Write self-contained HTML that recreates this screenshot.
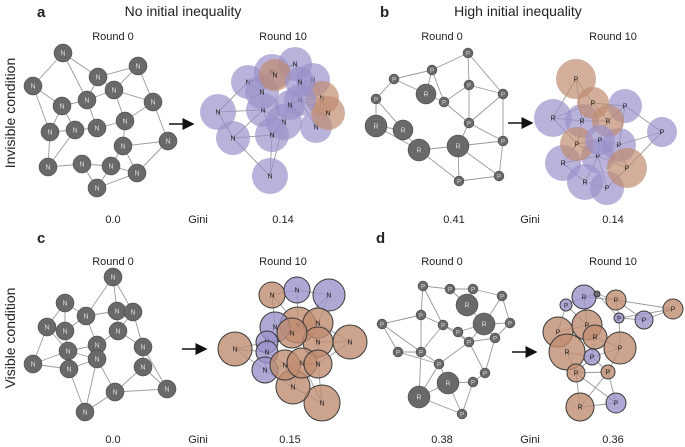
<!DOCTYPE html>
<html><head><meta charset="utf-8"><style>
html,body{margin:0;padding:0;background:#fff;}
svg{display:block;font-family:"Liberation Sans",sans-serif;}
</style></head><body>
<svg id="fig" width="685" height="447" viewBox="0 0 685 447">
<g fill="#222">
<text x="37" y="17" font-size="15" font-weight="bold">a</text>
<text x="380" y="17" font-size="15" font-weight="bold">b</text>
<text x="37" y="243" font-size="15" font-weight="bold">c</text>
<text x="376" y="243" font-size="15" font-weight="bold">d</text>
<text x="183" y="16" font-size="14" text-anchor="middle">No initial inequality</text>
<text x="518" y="16" font-size="14" text-anchor="middle">High initial inequality</text>
<text transform="translate(15,113) rotate(-90)" font-size="14" text-anchor="middle">Invisible condition</text>
<text transform="translate(15,338) rotate(-90)" font-size="14" text-anchor="middle">Visible condition</text>
<g font-size="11" text-anchor="middle">
<text x="113" y="40">Round 0</text>
<text x="283" y="40">Round 10</text>
<text x="442" y="40">Round 0</text>
<text x="613" y="40">Round 10</text>
<text x="113" y="265">Round 0</text>
<text x="283" y="265">Round 10</text>
<text x="442" y="265">Round 0</text>
<text x="613" y="265">Round 10</text>
<text x="113" y="223">0.0</text>
<text x="198" y="223">Gini</text>
<text x="283" y="223">0.14</text>
<text x="454" y="223">0.41</text>
<text x="530" y="223">Gini</text>
<text x="613" y="223">0.14</text>
<text x="113" y="443">0.0</text>
<text x="198" y="443">Gini</text>
<text x="290" y="443">0.15</text>
<text x="442" y="443">0.38</text>
<text x="530" y="443">Gini</text>
<text x="613" y="443">0.36</text>
</g>
</g>
<defs><marker id="ah" markerWidth="8" markerHeight="8" refX="7" refY="4" orient="auto"><path d="M0,0 L8,4 L0,8 z" fill="#111"/></marker></defs>
<g stroke="#111" stroke-width="1.5">
<line x1="169" y1="124" x2="193" y2="124" marker-end="url(#ah)"/>
<line x1="508" y1="123" x2="532" y2="123" marker-end="url(#ah)"/>
<line x1="182" y1="349" x2="206" y2="349" marker-end="url(#ah)"/>
<line x1="512" y1="352" x2="536" y2="352" marker-end="url(#ah)"/>
</g>
<g id="nets"></g>
</svg>
<script>
// node: x, y, radius, label, color (g=gray, u=purple, b=brown)
const netA0=[[63,53,9,'N','g'],[138,66,9,'N','g'],[33,86,9,'N','g'],[98,77,9,'N','g'],[114,90,9,'N','g'],[87,100,9,'N','g'],[62,106,9,'N','g'],[153,102,9,'N','g'],[50,132,9,'N','g'],[75,130,9,'N','g'],[97,128,9,'N','g'],[125,121,9,'N','g'],[123,146,9,'N','g'],[168,141,9,'N','g'],[48,167,9,'N','g'],[82,164,9,'N','g'],[111,166,9,'N','g'],[137,173,9,'N','g'],[97,188,9,'N','g']];
const netA10=[[218,112,18,'N','u'],[233,138,17,'N','u'],[270,176,18,'N','u'],[248,82,17,'N','u'],[272,72,18,'N','u'],[295,64,17,'N','u'],[313,80,17,'N','u'],[263,110,17,'N','u'],[262,92,17,'N','u'],[284,122,18,'N','u'],[316,127,16,'N','u'],[272,135,17,'N','u'],[275,75,16,'N','b'],[322,98,17,'N','b'],[328,113,17,'N','b'],[300,100,16,'N','u'],[290,105,15,'N','u'],[300,82,15,'N','u']];
const netB0=[[468,53,5,'P','g'],[432,70,5,'P','g'],[394,79,5,'P','g'],[469,85,5,'P','g'],[503,94,5,'P','g'],[444,102,5,'P','g'],[376,99,5,'P','g'],[469,123,5,'P','g'],[503,141,5,'P','g'],[499,176,5,'P','g'],[459,181,5,'P','g'],[426,94,10,'R','g'],[376,126,11,'R','g'],[403,130,10,'R','g'],[419,150,11,'R','g'],[458,146,11,'R','g']];
const netB10=[[576,79,20,'P','b'],[625,106,17,'P','u'],[553,118,19,'R','u'],[582,121,17,'R','u'],[662,132,15,'P','u'],[619,145,17,'P','u'],[598,156,17,'P','u'],[563,163,18,'R','u'],[585,182,18,'R','u'],[607,188,17,'P','u'],[593,103,16,'P','b'],[608,121,16,'R','b'],[577,144,17,'P','b'],[627,168,20,'P','b'],[600,140,15,'P','u']];
const netC0=[[113,277,9,'N','g'],[65,303,9,'N','g'],[86,316,9,'N','g'],[117,311,9,'N','g'],[133,312,9,'N','g'],[47,327,9,'N','g'],[65,331,9,'N','g'],[118,331,9,'N','g'],[97,345,9,'N','g'],[68,351,9,'N','g'],[97,359,9,'N','g'],[143,347,9,'N','g'],[33,364,9,'N','g'],[69,369,9,'N','g'],[143,367,9,'N','g'],[115,392,9,'N','g'],[167,389,9,'N','g'],[85,412,9,'N','g']];
const netC10=[[272,295,13,'N','b'],[297,290,13,'N','u'],[329,295,16,'N','u'],[235,349,17,'N','b'],[350,342,17,'N','b'],[322,403,18,'N','b'],[293,387,17,'N','b'],[298,325,18,'N','b'],[318,323,15,'N','b'],[318,342,15,'N','b'],[275,327,15,'N','u'],[267,342,11,'N','u'],[267,352,11,'N','u'],[265,370,13,'N','u'],[292,333,15,'N','b'],[285,365,15,'N','b'],[302,363,15,'N','b'],[318,364,14,'N','b']];
const netD0=[[423,286,5,'P','g'],[450,289,5,'P','g'],[473,289,5,'P','g'],[502,296,5,'P','g'],[421,315,5,'P','g'],[443,325,5,'P','g'],[458,332,5,'P','g'],[382,324,5,'P','g'],[510,323,5,'P','g'],[495,338,5,'P','g'],[469,342,5,'P','g'],[398,352,5,'P','g'],[421,352,5,'P','g'],[439,364,5,'P','g'],[485,373,5,'P','g'],[473,382,5,'P','g'],[462,414,5,'P','g'],[467,305,11,'R','g'],[484,324,11,'R','g'],[448,383,11,'R','g'],[419,397,11,'R','g']];
const netD10=[[566,305,6,'P','u'],[584,297,12,'R','u'],[597,294,3,'','g'],[616,300,10,'P','b'],[673,309,10,'P','b'],[619,318,5,'P','u'],[644,320,9,'P','u'],[558,332,15,'P','b'],[587,325,15,'P','b'],[567,352,18,'R','b'],[595,337,12,'R','b'],[592,357,8,'P','u'],[620,348,16,'P','b'],[576,373,9,'P','b'],[608,372,7,'P','b'],[580,407,14,'R','b'],[616,403,10,'P','u']];
const panels=[['a0',netA0,false],['a10',netA10,false],['b0',netB0,false],['b10',netB10,false],['c0',netC0,false],['c10',netC10,true],['d0',netD0,false],['d10',netD10,true]];
const fills={g:'#69696c',u:'#9b92cb',b:'#bf8c70'};
const NS='http://www.w3.org/2000/svg';
const root=document.getElementById('nets');
function mk(t,a){const e=document.createElementNS(NS,t);for(const k in a)e.setAttribute(k,a[k]);return e;}
panels.forEach(([id,nodes,stroked])=>{
  const g=mk('g',{});
  
  
  const eg=mk('g',{stroke:'#999','stroke-width':'0.9'});
  const seen=new Set();
  nodes.forEach((n,i)=>{
    const d=nodes.map((m,j)=>[Math.hypot(m[0]-n[0],m[1]-n[1]),j]).filter(p=>p[1]!==i).sort((p,q)=>p[0]-q[0]);
    d.slice(0,3).forEach(([dist,j])=>{
      const k=Math.min(i,j)+'-'+Math.max(i,j);if(seen.has(k))return;seen.add(k);
      const l=mk('line',{x1:n[0],y1:n[1],x2:nodes[j][0],y2:nodes[j][1]});
      
      
      eg.appendChild(l);
    });
  });
  g.appendChild(eg);
  nodes.forEach(n=>{
    const isG=n[4]==='g';
    const c=mk('circle',{cx:n[0],cy:n[1],r:n[2],fill:fills[n[4]],'fill-opacity':isG?1:(stroked?0.8:0.7),stroke:stroked||isG?'#3a3a3a':'none','stroke-width':stroked?1:0.5});
    
    
    g.appendChild(c);
    if(n[3]){
      const t=mk('text',{x:n[0],y:n[1]+2.5,'font-size':n[2]<7?6:7,'text-anchor':'middle',fill:isG?'#ddd':'#222'});
      t.textContent=n[3];
      
      
      g.appendChild(t);
    }
  });
  root.appendChild(g);
});
</script>
</body></html>
